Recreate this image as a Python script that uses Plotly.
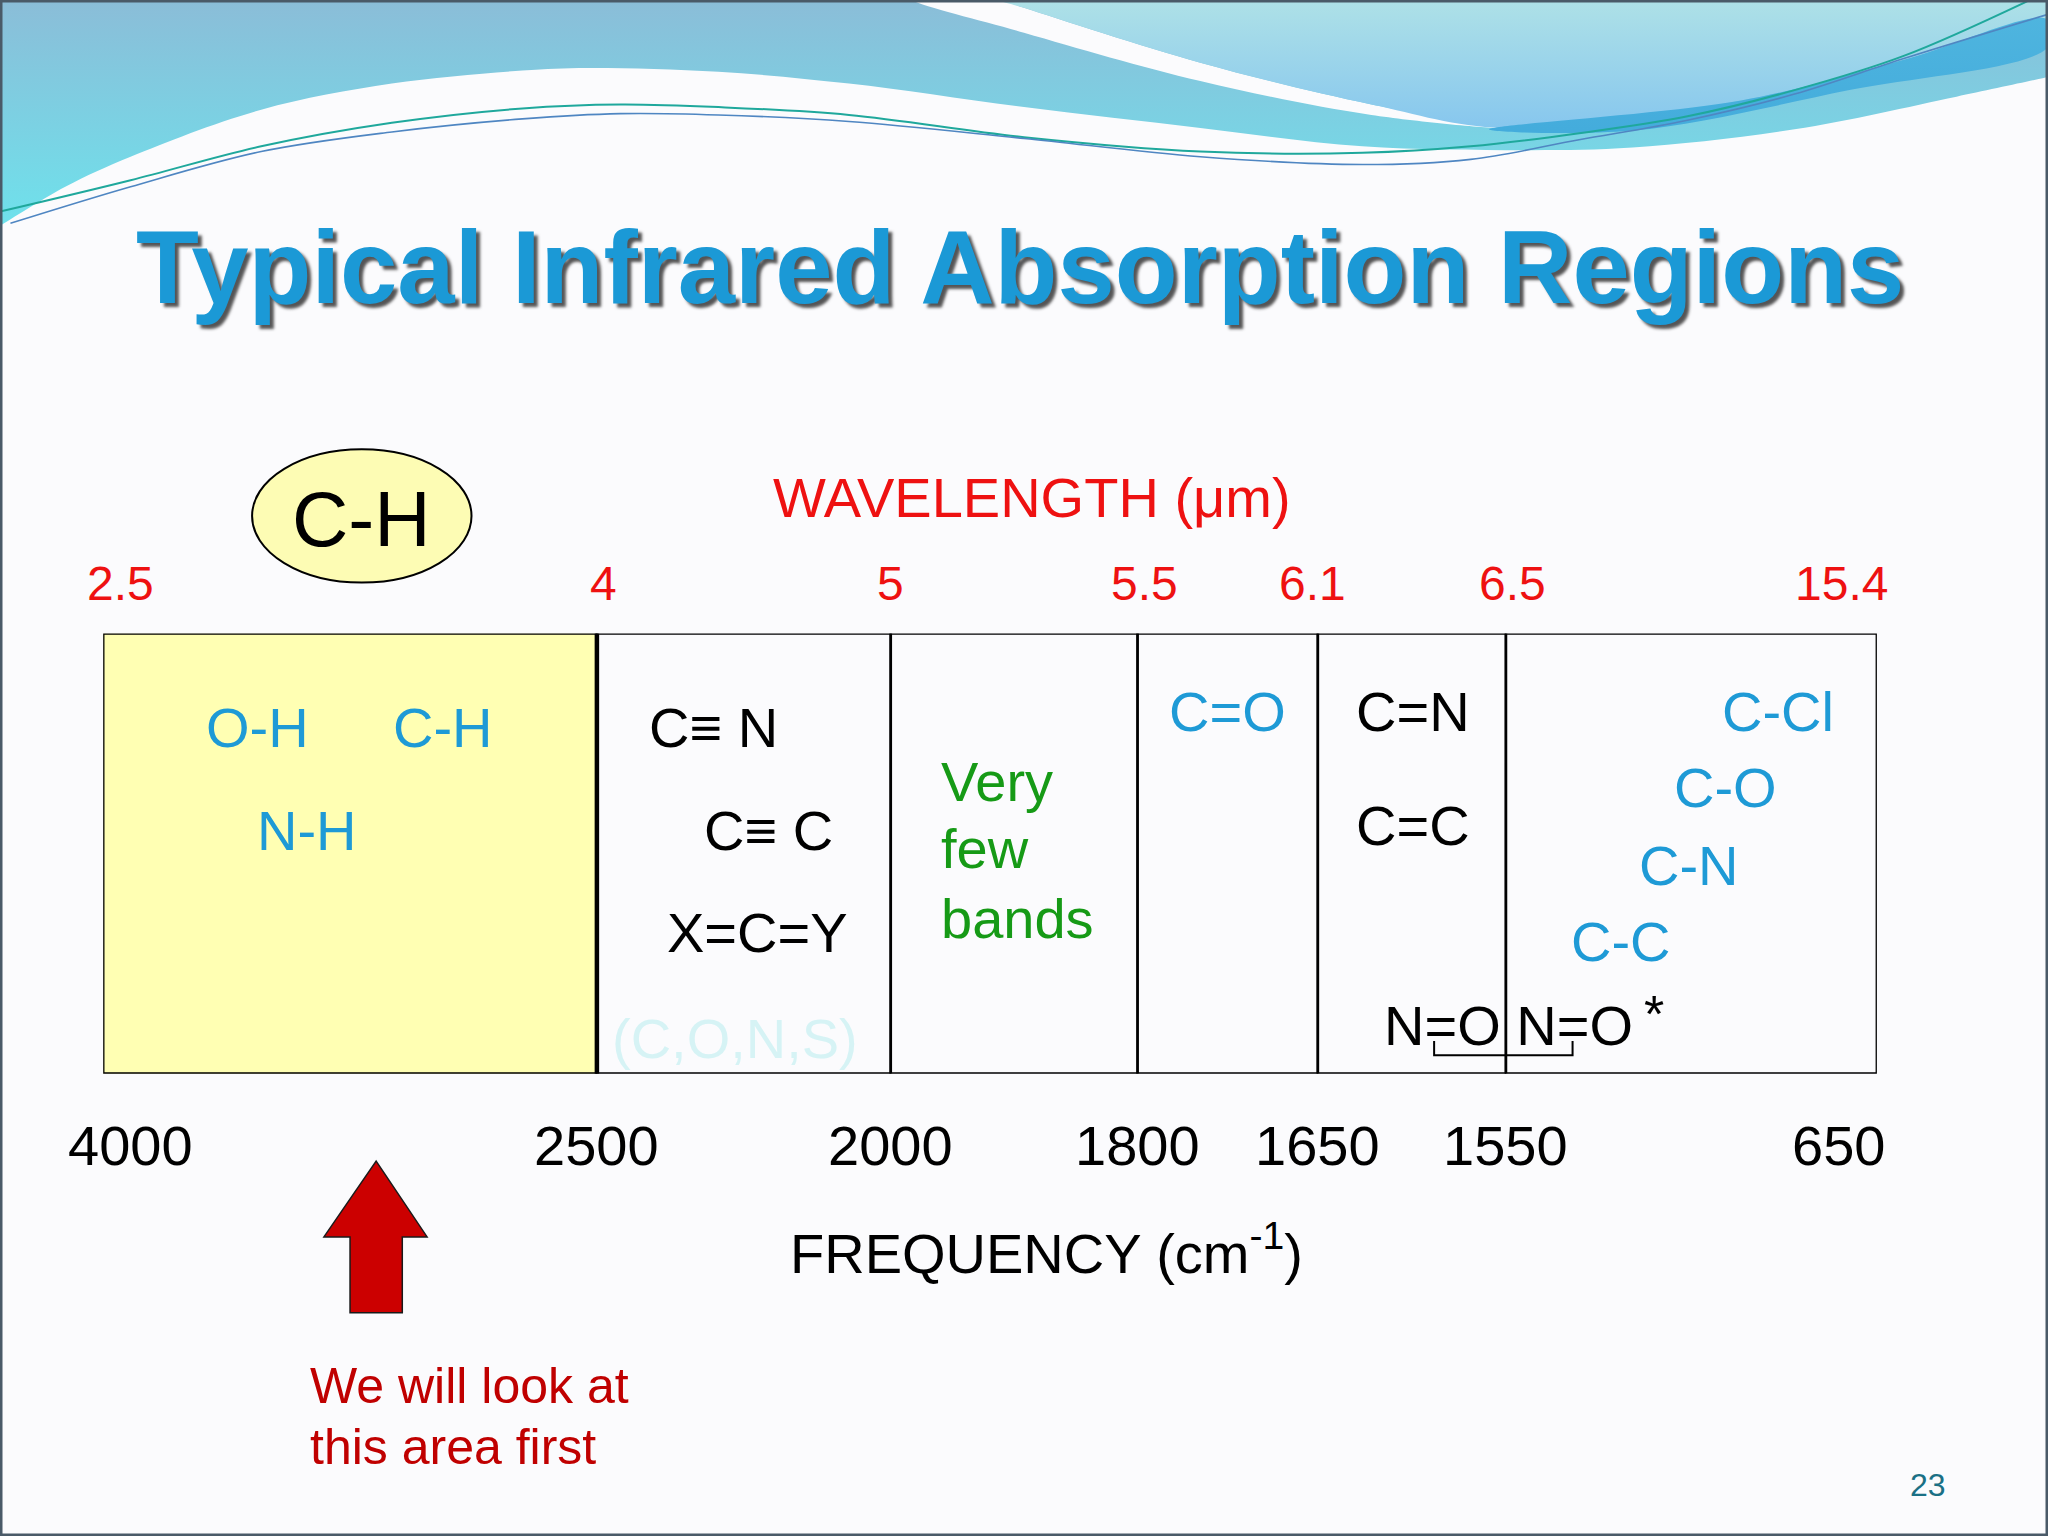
import numpy as np
import plotly.graph_objects as go

# ---------------- data ----------------
freq_labels = ["4000", "2500", "2000", "1800", "1650", "1550", "650"]
wavelength_labels = ["2.5", "4", "5", "5.5", "6.1", "6.5", "15.4"]
# schematic width of each absorption region (chart units, left -> right)
region_width = [378, 225, 189, 138, 144, 284]
region_fill = ["#FFFFB3", "#FBFBFD", "#FBFBFD", "#FBFBFD", "#FBFBFD", "#FBFBFD"]

# label texts
blue_labels = ["O-H", "C-H", "N-H", "C=O", "C-Cl", "C-O", "C-N", "C-C"]
black_labels = ["C<b>≡</b> N", "C<b>≡</b> C", "X=C=Y", "C=N", "C=C", "N=O N=O"]
green_lines = ["Very", "few", "bands"]
note_lines = ["We will look at", "this area first"]

# ---------------- derived ----------------
bounds = np.concatenate([[0], np.cumsum(region_width)])
centers = (bounds[:-1] + bounds[1:]) / 2
total = bounds[-1]

# ---------------- styles / layout positions (reference-pixel space 1568x1176) ----------------
W, H = 1568, 1176
FONT = "Liberation Sans, Arial, sans-serif"
BLUE = "#1E9AD6"
box_left, box_right, box_top, box_bot = 79, 1437, 485, 822

blue_pos = [(197, 557), (339, 557), (235, 636), (940, 545),
            (1361, 545), (1321, 603), (1293, 663), (1241, 721)]
black_pos = [(546, 557), (588, 636), (580, 714), (1082, 545), (1082, 632), (1155, 785)]
green_y = [598, 650, 703]
note_y = [1061, 1108]
wl_shift = [17, 7, 0, 7, -5, 7, -35]
fq_shift = [27, 0, 0, 0, 0, 0, -38]

fig = go.Figure()

# ---- main schematic (bars through the axis scale) ----
fig.add_trace(go.Bar(
    x=centers, y=[1] * len(region_width), width=region_width, base=0,
    marker=dict(color=region_fill, line=dict(color="black", width=2.6)),
    cliponaxis=False, hoverinfo="skip", showlegend=False,
))

# ---- decorative wave header (pixel overlay axis x2/y2) ----
def deco(xs, ys, c0, c1, y0, y1, smooth=1.0):
    fig.add_trace(go.Scatter(
        x=xs, y=ys, xaxis="x2", yaxis="y2", mode="lines", fill="toself",
        line=dict(width=0, shape="spline", smoothing=smooth),
        fillgradient=dict(type="vertical", colorscale=[[0, c0], [1, c1]], start=y0, stop=y1),
        hoverinfo="skip", showlegend=False,
    ))

# left/top blue band (bottom edge right -> left)
band_x = [1568, 1498, 1374, 1250, 1167, 1043, 919, 784, 650, 550, 450, 400, 300, 200, 100, 50, 0]
band_y = [59, 74, 99, 113, 115, 112, 98, 82, 64, 55, 52, 54, 64, 84, 120, 143, 173]
deco([0, 0, 1568] + band_x[:1] + band_x + [0],
     [173, -2, -2] + band_y[:1] + band_y + [173],
     "#8BBDD8", "#6EE2EC", 0, 175)
# white swoosh
deco([695, 760, 784, 919, 1050, 1151, 1050, 919, 784, 695],
     [-2, -2, 6, 48, 80, 98, 88, 62, 25, -2],
     "#FBFBFD", "#FBFBFD", 0, 100)
# upper right light region
deco([760, 1164, 1568, 1568, 1457, 1333, 1151, 1050, 919, 784, 760],
     [-2, -2, -2, 15, 46, 77, 98, 80, 48, 6, -2],
     "#AEE1E7", "#86C6EE", 0, 100)
# darker ribbon
deco([1140, 1333, 1457, 1568, 1568, 1416, 1250, 1140],
     [99, 77, 46, 15, 36, 69, 100, 99],
     "#50B6DF", "#44ACDC", 0, 100)

# thin lines
fig.add_trace(go.Scatter(
    x=[0, 100, 200, 300, 400, 475, 550, 650, 784, 919, 1043, 1126, 1209, 1292, 1374, 1457, 1552],
    y=[162, 138, 112, 94, 83, 80, 82, 88, 105, 116, 117, 112, 102, 89, 69, 43, 1],
    xaxis="x2", yaxis="y2", mode="lines",
    line=dict(color="#1FA89C", width=2, shape="spline"), hoverinfo="skip", showlegend=False))
fig.add_trace(go.Scatter(
    x=[8, 100, 200, 300, 400, 475, 550, 650, 784, 919, 1043, 1126, 1209, 1292, 1374, 1457, 1568],
    y=[171, 143, 116, 101, 91, 87, 88, 93, 106, 120, 126, 122, 107, 92, 72, 45, 11],
    xaxis="x2", yaxis="y2", mode="lines",
    line=dict(color="#4F86C2", width=1.6, shape="spline"), hoverinfo="skip", showlegend=False))

shapes = []
# thick divider at 2500 cm-1
shapes.append(dict(type="line", xref="x", yref="y", x0=bounds[1], x1=bounds[1], y0=0, y1=1,
                   line=dict(color="black", width=4.5), layer="above"))
# C-H ellipse
shapes.append(dict(type="circle", xref="x2", yref="y2", x0=193, x1=361, y0=344, y1=446,
                   fillcolor="#FDFCB4", line=dict(color="black", width=2)))
# red arrow
shapes.append(dict(type="path", xref="x2", yref="y2",
                   path="M288,889 L327,947 L308,947 L308,1005 L268,1005 L268,947 L248,947 Z",
                   fillcolor="#CC0000", line=dict(color="#1A1A1A", width=1.5)))
# N=O bracket
shapes.append(dict(type="path", xref="x2", yref="y2",
                   path="M1098,797 L1098,808 L1204,808 L1204,797",
                   line=dict(color="black", width=2)))
# slide frame
shapes.append(dict(type="rect", xref="x2", yref="y2", x0=0, x1=W, y0=0, y1=H,
                   line=dict(color="#4A5A68", width=5), layer="above"))

ann = []
def T(text, x, y, size, color="black", xanchor="center", yanchor="middle", align="center", **kw):
    font = dict(family=FONT, size=size, color=color)
    font.update(kw.pop("font", {}))
    d = dict(text=text, x=x, y=y, xref="x2", yref="y2", showarrow=False,
             font=font, xanchor=xanchor, yanchor=yanchor, align=align)
    d.update(kw)
    ann.append(d)

# title
T("Typical Infrared Absorption Regions", 781, 205, 103, color="#1B99D6",
  font=dict(family="Liberation Sans Narrow, Liberation Sans, Arial", weight="bold",
            shadow="4px 4px 3px rgba(30,30,30,0.75)"))

# wavelength / frequency tick labels via main x axis
for b, lab, s in zip(bounds, wavelength_labels, wl_shift):
    ann.append(dict(text=lab, x=b, xref="x", y=1 - 447 / H, yref="paper", showarrow=False,
                    xshift=s, font=dict(family=FONT, size=48, color="#EE1111"),
                    xanchor="center", yanchor="middle"))
for b, lab, s in zip(bounds, freq_labels, fq_shift):
    ann.append(dict(text=lab, x=b, xref="x", y=1 - 877 / H, yref="paper", showarrow=False,
                    xshift=s, font=dict(family=FONT, size=56, color="black"),
                    xanchor="center", yanchor="middle"))

T("WAVELENGTH (μm)", 790, 381, 56, color="#EE1111")
T("FREQUENCY (cm<sup>-1</sup>)", 801, 957, 56)
T("C-H", 277, 397, 78)

for lab, (x, y) in zip(blue_labels, blue_pos):
    T(lab, x, y, 56, color=BLUE)
for lab, (x, y) in zip(black_labels, black_pos):
    T(lab, x, y, 56)
T("*", 1266, 776, 52)
T("(C,O,N,S)", 563, 795, 56, color="#D6F3F5")
for lab, y in zip(green_lines, green_y):
    T(lab, 719, y, 56, color="#169A16", xanchor="left", align="left")
for lab, y in zip(note_lines, note_y):
    T(lab, 236, y, 50, color="#C00000", xanchor="left", align="left")
T("23", 1476, 1137, 32, color="#1A7085")

fig.update_layout(
    width=2048, height=1536, margin=dict(l=0, r=0, t=0, b=0, pad=0),
    paper_bgcolor="#FBFBFD", plot_bgcolor="rgba(0,0,0,0)",
    hovermode=False, showlegend=False,
    xaxis=dict(domain=[box_left / W, box_right / W], range=[0, total], visible=False, fixedrange=True),
    yaxis=dict(domain=[1 - box_bot / H, 1 - box_top / H], range=[0, 1], visible=False, fixedrange=True),
    xaxis2=dict(domain=[0, 1], range=[0, W], visible=False, anchor="y2", fixedrange=True),
    yaxis2=dict(domain=[0, 1], range=[H, 0], visible=False, anchor="x2", fixedrange=True),
    shapes=shapes, annotations=ann,
)

fig.write_html(
    "out.html",
    config={"displayModeBar": False},
    post_script="document.body.style.margin='0';document.body.style.overflow='hidden';",
)
